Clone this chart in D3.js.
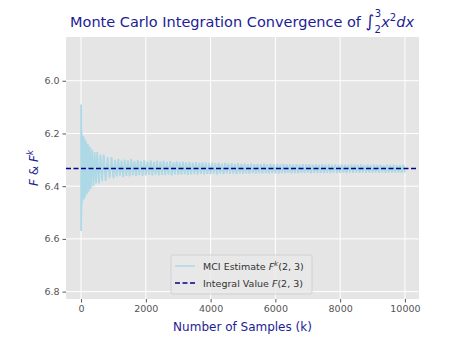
<!DOCTYPE html>
<html>
<head>
<meta charset="utf-8">
<script src="https://cdn.jsdelivr.net/npm/d3@7"></script>
<style>
  body { margin: 0; background: #fff; }
  text { font-family: "DejaVu Sans", sans-serif; }
</style>
</head>
<body>
<div id="chart"></div>
<script>
// sample counts k and running Monte Carlo estimates F^k(2,3)
var sampleK = [1, 2, 4, 6, 10, 15, 22, 30, 40, 55, 70, 90, 110, 130, 155, 180, 210, 240, 270, 300,
  340, 380, 420, 460, 500, 550, 600, 650, 700, 760, 820, 880, 940, 1000,
  1050, 1100, 1150, 1200, 1250, 1300, 1350, 1400, 1450, 1500, 1550, 1600, 1650, 1700, 1750, 1800, 1850, 1900, 1950, 2000,
  2050, 2100, 2150, 2200, 2250, 2300, 2350, 2400, 2450, 2500, 2550, 2600, 2650, 2700, 2750, 2800, 2850, 2900, 2950, 3000,
  3050, 3100, 3150, 3200, 3250, 3300, 3350, 3400, 3450, 3500, 3550, 3600, 3650, 3700, 3750, 3800, 3850, 3900, 3950, 4000,
  4050, 4100, 4150, 4200, 4250, 4300, 4350, 4400, 4450, 4500, 4550, 4600, 4650, 4700, 4750, 4800, 4850, 4900, 4950, 5000,
  5050, 5100, 5150, 5200, 5250, 5300, 5350, 5400, 5450, 5500, 5550, 5600, 5650, 5700, 5750, 5800, 5850, 5900, 5950, 6000,
  6050, 6100, 6150, 6200, 6250, 6300, 6350, 6400, 6450, 6500, 6550, 6600, 6650, 6700, 6750, 6800, 6850, 6900, 6950, 7000,
  7050, 7100, 7150, 7200, 7250, 7300, 7350, 7400, 7450, 7500, 7550, 7600, 7650, 7700, 7750, 7800, 7850, 7900, 7950, 8000,
  8050, 8100, 8150, 8200, 8250, 8300, 8350, 8400, 8450, 8500, 8550, 8600, 8650, 8700, 8750, 8800, 8850, 8900, 8950, 9000,
  9050, 9100, 9150, 9200, 9250, 9300, 9350, 9400, 9450, 9500, 9550, 9600, 9650, 9700, 9750, 9800, 9850, 9900, 9950, 10000];
var estimates = [6.09, 6.57, 6.15, 6.52, 6.19, 6.48, 6.20, 6.46, 6.21, 6.45, 6.21, 6.45, 6.22, 6.44, 6.23, 6.43, 6.24, 6.42, 6.25, 6.41,
  6.26, 6.40, 6.27, 6.39, 6.27, 6.39, 6.28, 6.38, 6.28, 6.38, 6.29, 6.37, 6.29, 6.37,
  6.300, 6.364, 6.296, 6.360, 6.303, 6.366, 6.299, 6.361, 6.302, 6.363, 6.297, 6.359, 6.304, 6.362, 6.300, 6.358, 6.305, 6.361, 6.301, 6.359,
  6.306, 6.357, 6.302, 6.360, 6.307, 6.356, 6.303, 6.359, 6.306, 6.357, 6.304, 6.358, 6.308, 6.356, 6.305, 6.359, 6.309, 6.355, 6.306, 6.357,
  6.309, 6.356, 6.307, 6.354, 6.310, 6.357, 6.308, 6.355, 6.311, 6.354, 6.309, 6.356, 6.312, 6.353, 6.310, 6.355, 6.311, 6.353, 6.313, 6.354,
  6.311, 6.352, 6.313, 6.355, 6.312, 6.352, 6.314, 6.354, 6.312, 6.351, 6.314, 6.353, 6.313, 6.352, 6.315, 6.354, 6.313, 6.351, 6.315, 6.353,
  6.314, 6.351, 6.316, 6.353, 6.314, 6.350, 6.316, 6.352, 6.315, 6.351, 6.316, 6.352, 6.314, 6.350, 6.317, 6.352, 6.315, 6.350, 6.316, 6.351,
  6.315, 6.352, 6.317, 6.350, 6.315, 6.351, 6.317, 6.349, 6.316, 6.351, 6.317, 6.350, 6.316, 6.351, 6.318, 6.349, 6.316, 6.350, 6.317, 6.349,
  6.316, 6.351, 6.318, 6.349, 6.317, 6.350, 6.318, 6.349, 6.316, 6.350, 6.318, 6.349, 6.317, 6.350, 6.318, 6.348, 6.317, 6.350, 6.319, 6.349,
  6.317, 6.348, 6.318, 6.350, 6.319, 6.348, 6.317, 6.349, 6.318, 6.348, 6.319, 6.349, 6.317, 6.348, 6.319, 6.349, 6.318, 6.348, 6.319, 6.349,
  6.318, 6.348, 6.319, 6.349, 6.318, 6.348, 6.320, 6.349, 6.318, 6.348, 6.319, 6.349, 6.318, 6.348, 6.320, 6.348, 6.319, 6.349, 6.318, 6.348];
var integralValue = 19 / 3;
var xTicks = [0, 2000, 4000, 6000, 8000, 10000];
var yTicks = [6.0, 6.2, 6.4, 6.6, 6.8];

var width = 474, height = 343;
var plotLeft = 66, plotRight = 419, plotTop = 37, plotBottom = 299;
var titleColor = '#1c1c96';

var svg = d3.select('#chart').append('svg')
  .attr('width', width)
  .attr('height', height);

var x = d3.scaleLinear().domain([-465, 10435]).range([plotLeft, plotRight]);
var y = d3.scaleLinear().domain([5.834, 6.828]).range([plotTop, plotBottom]);

svg.append('rect')
  .attr('x', plotLeft).attr('y', plotTop)
  .attr('width', plotRight - plotLeft).attr('height', plotBottom - plotTop)
  .attr('fill', '#e5e5e5');

// grid
svg.append('g').selectAll('line').data(xTicks).enter().append('line')
  .attr('x1', d => x(d)).attr('x2', d => x(d))
  .attr('y1', plotTop).attr('y2', plotBottom)
  .attr('stroke', '#fff').attr('stroke-width', 1);
svg.append('g').selectAll('line').data(yTicks).enter().append('line')
  .attr('x1', plotLeft).attr('x2', plotRight)
  .attr('y1', d => y(d)).attr('y2', d => y(d))
  .attr('stroke', '#fff').attr('stroke-width', 1);

// axes
var xAxis = svg.append('g')
  .attr('transform', 'translate(0,' + plotBottom + ')')
  .call(d3.axisBottom(x).tickValues(xTicks).tickSize(3.5).tickPadding(3).tickFormat(d3.format('d')));
var yAxis = svg.append('g')
  .attr('transform', 'translate(' + plotLeft + ',0)')
  .call(d3.axisLeft(y).tickValues(yTicks).tickSize(3.5).tickPadding(3).tickFormat(d3.format('.1f')));
[xAxis, yAxis].forEach(function(a) {
  a.select('.domain').remove();
  a.selectAll('.tick line').attr('stroke', '#555');
  a.selectAll('.tick text')
    .attr('fill', '#555')
    .style('font-family', '"DejaVu Sans", sans-serif')
    .style('font-size', '9.5px');
});

// estimate line
var line = d3.line()
  .x((d, i) => x(sampleK[i]))
  .y(d => y(d));
svg.append('path')
  .datum(estimates)
  .attr('d', line)
  .attr('fill', 'none')
  .attr('stroke', '#add8e6')
  .attr('stroke-width', 1.8);

// integral value
svg.append('line')
  .attr('x1', plotLeft).attr('x2', plotRight - 2)
  .attr('y1', y(integralValue)).attr('y2', y(integralValue))
  .attr('stroke', '#00008b')
  .attr('stroke-width', 1.5)
  .attr('stroke-dasharray', '5,2.5');

// title
var title = svg.append('text')
  .attr('x', 242).attr('y', 27)
  .attr('text-anchor', 'middle')
  .attr('fill', titleColor)
  .style('font-size', '14.5px');
title.append('tspan').text('Monte Carlo Integration Convergence of ');
title.append('tspan').text('\u222B').style('font-size', '17px');
title.append('tspan').attr('dy', 6).attr('dx', 0).text('2').style('font-size', '10px');
title.append('tspan').attr('dy', -16).attr('dx', -6).text('3').style('font-size', '10px');
title.append('tspan').attr('dy', 10).attr('font-style', 'italic').text('x');
title.append('tspan').attr('dy', -6).text('2').style('font-size', '10px');
title.append('tspan').attr('dy', 6).attr('font-style', 'italic').text('dx');

// axis labels
svg.append('text')
  .attr('x', (plotLeft + plotRight) / 2).attr('y', 331)
  .attr('text-anchor', 'middle')
  .attr('fill', titleColor)
  .style('font-size', '12px')
  .text('Number of Samples (k)');

var ylab = svg.append('text')
  .attr('transform', 'translate(38,' + 168 + ') rotate(-90)')
  .attr('text-anchor', 'middle')
  .attr('fill', titleColor)
  .style('font-size', '12px');
ylab.append('tspan').attr('font-style', 'italic').text('F');
ylab.append('tspan').text(' & ');
ylab.append('tspan').attr('font-style', 'italic').text('F');
ylab.append('tspan').attr('dy', -5).attr('font-style', 'italic').style('font-size', '8.5px').text('k');

// legend
var lg = svg.append('g');
lg.append('rect')
  .attr('x', 171).attr('y', 255).attr('width', 141).attr('height', 39)
  .attr('rx', 2)
  .attr('fill', '#e8e8e8').attr('fill-opacity', 0.8)
  .attr('stroke', '#cccccc').attr('stroke-width', 0.8);
lg.append('line')
  .attr('x1', 175).attr('x2', 195).attr('y1', 266).attr('y2', 266)
  .attr('stroke', '#add8e6').attr('stroke-width', 1.5);
lg.append('line')
  .attr('x1', 175).attr('x2', 195).attr('y1', 283).attr('y2', 283)
  .attr('stroke', '#00008b').attr('stroke-width', 1.5).attr('stroke-dasharray', '5,2.5');
var t1 = lg.append('text').attr('x', 203).attr('y', 270).attr('fill', '#333').style('font-size', '9.5px');
t1.append('tspan').text('MCI Estimate ');
t1.append('tspan').attr('font-style', 'italic').text('F');
t1.append('tspan').attr('dy', -4).attr('font-style', 'italic').style('font-size', '7px').text('k');
t1.append('tspan').attr('dy', 4).text('(2, 3)');
var t2 = lg.append('text').attr('x', 203).attr('y', 287).attr('fill', '#333').style('font-size', '9.5px');
t2.append('tspan').text('Integral Value ');
t2.append('tspan').attr('font-style', 'italic').text('F');
t2.append('tspan').text('(2, 3)');
</script>
</body>
</html>
